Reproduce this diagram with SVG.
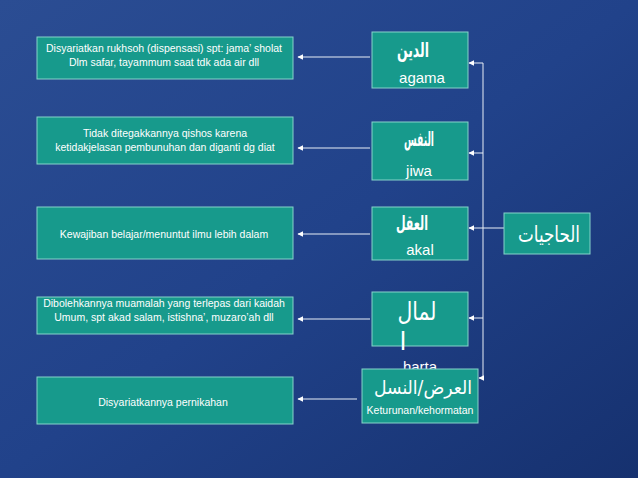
<svg xmlns="http://www.w3.org/2000/svg" width="638" height="478" viewBox="0 0 638 478">
<defs>
<linearGradient id="bg" x1="0" y1="0" x2="1" y2="1">
<stop offset="0" stop-color="#2b4d93"/>
<stop offset="0.5" stop-color="#21428a"/>
<stop offset="1" stop-color="#16316f"/>
</linearGradient>
<marker id="ah" viewBox="0 0 10 10" refX="9" refY="5" markerWidth="6" markerHeight="6" orient="auto-start-reverse" markerUnits="userSpaceOnUse">
<path d="M0,0 L10,5 L0,10 z" fill="#ffffff"/>
</marker>
<style>
.box{fill:#179a8c;stroke:#86d3ca;stroke-width:1}
.t{font-family:"Liberation Sans",Arial,sans-serif;fill:#ffffff;text-anchor:middle}
.s{font-size:10.5px}
.m{font-size:15px}
.ar{font-family:"DejaVu Sans","Noto Sans",sans-serif;fill:#ffffff;text-anchor:middle;direction:rtl}
.b{font-weight:bold}
.c{stroke:#e8eef6;stroke-width:1;fill:none}
</style>
</defs>
<rect width="638" height="478" fill="url(#bg)"/>

<g id="connectors">
<line class="c" x1="483" y1="63" x2="483" y2="378"/>
<line class="c" x1="483" y1="63" x2="469" y2="63" marker-end="url(#ah)"/>
<line class="c" x1="483" y1="153" x2="469" y2="153" marker-end="url(#ah)"/>
<line class="c" x1="504" y1="228" x2="469" y2="228" marker-end="url(#ah)"/>
<line class="c" x1="483" y1="318" x2="469" y2="318" marker-end="url(#ah)"/>
<line class="c" x1="483" y1="378" x2="479" y2="378" marker-end="url(#ah)"/>
<line class="c" x1="370" y1="57" x2="298" y2="57" marker-end="url(#ah)"/>
<line class="c" x1="370" y1="148" x2="298" y2="148" marker-end="url(#ah)"/>
<line class="c" x1="370" y1="234" x2="298" y2="234" marker-end="url(#ah)"/>
<line class="c" x1="370" y1="319" x2="298" y2="319" marker-end="url(#ah)"/>
<line class="c" x1="357" y1="399" x2="298" y2="399" marker-end="url(#ah)"/>
</g>

<g id="l1">
<rect class="box" x="37" y="37" width="256" height="42"/>
<text class="t s" x="164" y="52">Disyariatkan rukhsoh (dispensasi) spt: jama’ sholat</text>
<text class="t s" x="164" y="66">Dlm safar, tayammum saat tdk ada air dll</text>
</g>
<g id="l2">
<rect class="box" x="37" y="117" width="256" height="47"/>
<text class="t s" x="165" y="137">Tidak ditegakkannya qishos karena</text>
<text class="t s" x="165" y="151">ketidakjelasan pembunuhan dan diganti dg diat</text>
</g>
<g id="l3">
<rect class="box" x="37" y="207" width="256" height="52"/>
<text class="t s" x="164" y="238">Kewajiban belajar/menuntut ilmu lebih dalam</text>
</g>
<g id="l4">
<rect class="box" x="37" y="297" width="256" height="37"/>
<text class="t s" x="164" y="307">Dibolehkannya muamalah yang terlepas dari kaidah</text>
<text class="t s" x="164" y="321">Umum, spt akad salam, istishna’, muzaro’ah dll</text>
</g>
<g id="l5">
<rect class="box" x="37" y="377" width="256" height="47"/>
<text class="t s" x="163" y="406">Disyariatkannya pernikahan</text>
</g>

<g id="agama">
<rect class="box" x="372" y="32" width="96" height="56"/>
<text class="ar b" x="413" y="57" font-size="20" textLength="32" lengthAdjust="spacingAndGlyphs">الدين</text>
<text class="t m" x="422" y="83">agama</text>
</g>
<g id="jiwa">
<rect class="box" x="372" y="122" width="96" height="58"/>
<text class="ar b" x="419" y="146" font-size="20" textLength="30" lengthAdjust="spacingAndGlyphs">النفس</text>
<text class="t m" x="419" y="176">jiwa</text>
</g>
<g id="akal">
<rect class="box" x="372" y="207" width="96" height="53"/>
<text class="ar b" x="412" y="230" font-size="20" textLength="32" lengthAdjust="spacingAndGlyphs">العقل</text>
<text class="t m" x="420" y="255">akal</text>
</g>
<g id="harta">
<rect class="box" x="372" y="292" width="96" height="54"/>
<text class="ar" font-size="25"><tspan x="403" y="350">ا</tspan><tspan x="417" y="320" textLength="39" lengthAdjust="spacingAndGlyphs">لمال</tspan></text>
<text class="t m" x="420" y="372">harta</text>
</g>
<g id="keturunan">
<rect class="box" x="362" y="369" width="116" height="54"/>
<text class="ar" x="423" y="394" font-size="19" textLength="98" lengthAdjust="spacingAndGlyphs">العرض/النسل</text>
<text class="t" x="420" y="414" font-size="10.5">Keturunan/kehormatan</text>
</g>
<g id="hajiyat">
<rect class="box" x="504" y="213" width="86" height="41"/>
<text class="ar" x="549" y="242" font-size="22" textLength="62" lengthAdjust="spacingAndGlyphs">الحاجيات</text>
</g>
</svg>
